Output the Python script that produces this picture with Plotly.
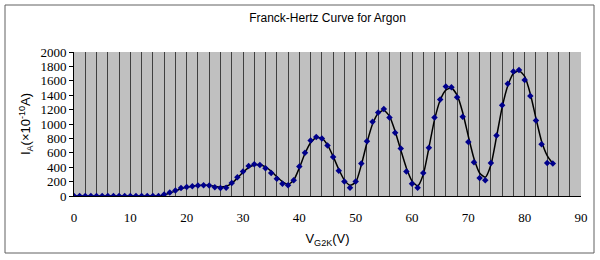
import plotly.graph_objects as go

voltage = list(range(0, 86))
current_points = [0]*16 + [
    20, 50, 75, 110, 125, 135, 145, 150, 145, 120, 110, 115, 180, 260, 340, 415,
    440, 430, 385, 320, 240, 170, 150, 220, 410, 600, 770, 820, 800, 700, 540, 350,
    200, 115, 200, 450, 760, 1030, 1160, 1210, 1090, 880, 660, 340, 170, 115, 320, 670,
    1090, 1340, 1520, 1510, 1370, 1100, 750, 470, 250, 220, 460, 840, 1260, 1560, 1730, 1750,
    1610, 1390, 1050, 720, 460, 450]
current_curve = [0]*16 + [
    15, 40, 70, 100, 120, 135, 145, 150, 148, 135, 125, 135, 175, 250, 330, 395,
    430, 435, 405, 345, 270, 200, 160, 220, 390, 590, 740, 810, 800, 710, 550, 370,
    220, 150, 190, 430, 740, 1000, 1150, 1190, 1110, 900, 640, 390, 210, 140, 300, 670,
    1060, 1330, 1470, 1500, 1400, 1160, 830, 520, 320, 260, 430, 820, 1230, 1530, 1700, 1740,
    1660, 1420, 1080, 760, 560, 450]

L, R, T, B = 74, 19, 52, 64
W, H = 600, 260
pw, ph = W - L - R, H - T - B
serif = "Times New Roman, Liberation Serif, serif"

fig = go.Figure()
fig.add_trace(go.Scatter(x=voltage, y=current_curve, mode="lines",
                         line=dict(color="black", width=1.5, shape="spline", smoothing=0.6),
                         hoverinfo="skip", showlegend=False))
fig.add_trace(go.Scatter(x=voltage, y=current_points, mode="markers",
                         marker=dict(symbol="diamond", size=5, color="#00008B"),
                         showlegend=False))

fig.update_layout(
    width=W, height=H,
    margin=dict(l=L, r=R, t=T, b=B),
    paper_bgcolor="white", plot_bgcolor="#C0C0C0",
    title=dict(text="Franck-Hertz Curve for Argon", x=0.5, xref="paper",
               y=1 - 18/H, yanchor="middle",
               font=dict(family="Liberation Sans, Arial", size=12, color="black")),
    xaxis=dict(range=[0, 90], dtick=10, tick0=0, showgrid=True, gridcolor="#404040",
               gridwidth=1, showline=True, linecolor="black", mirror=False,
               ticks="", zeroline=False, ticklabelstandoff=9,
               minor=dict(dtick=2, showgrid=True, gridcolor="#404040", gridwidth=1),
               tickfont=dict(family=serif, size=13, color="black"),
               title=dict(text="V<sub>G2K</sub>(V)", standoff=10,
                          font=dict(family="Liberation Sans, Arial", size=13, color="black"))),
    yaxis=dict(range=[0, 2000], dtick=200, showgrid=False, showline=True, linecolor="black",
               ticks="outside", ticklen=4, tickcolor="black", zeroline=False,
               tickfont=dict(family=serif, size=13, color="black"),
               title=dict(text="I<sub>A</sub>(×10<sup>-10</sup>A)", standoff=6,
                          font=dict(family="Liberation Sans, Arial", size=13, color="black"))),
    shapes=[dict(type="rect", xref="paper", yref="paper",
                 x0=(5 - L)/pw, x1=(594 - L)/pw,
                 y0=((H - B) - 253)/ph, y1=((H - B) - 5)/ph,
                 line=dict(color="#606060", width=1), fillcolor="rgba(0,0,0,0)", layer="below")],
)

fig.write_html("out.html")
